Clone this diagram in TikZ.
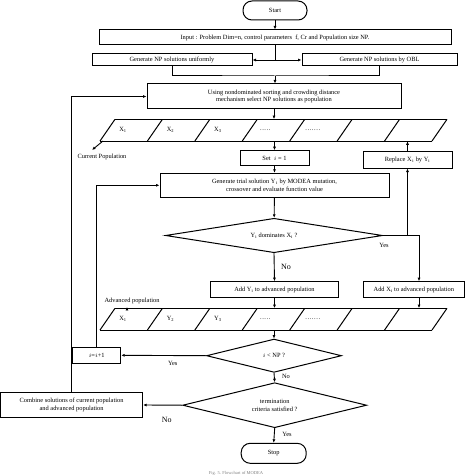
\documentclass[tikz,border=0pt]{standalone}
\usepackage{fontspec}
\setmainfont{Liberation Serif}
\usetikzlibrary{arrows.meta,shapes.geometric}

\tikzset{
    every node/.style={font=\fontsize{6.4}{7.5}\selectfont},
    procbox/.style={draw, line width=1pt, inner sep=1pt, align=center},
    termbox/.style={draw, line width=1pt, rounded corners=9pt, inner sep=1pt},
    decision/.style={draw, diamond, line width=1pt, inner sep=0pt, align=center},
    flowline/.style={line width=1pt},
    arr/.style={line width=0.9pt, -{Latex[length=3.5pt,width=3pt]}},
    answer/.style={font=\fontsize{6.4}{7.5}\selectfont},
    bigno/.style={font=\fontsize{8}{9}\selectfont},
}
\newcommand{\fivedots}{.\kern0.6pt.\kern0.6pt.\kern0.6pt.\kern0.6pt.}
\newcommand{\sevendots}{.\kern0.6pt.\kern0.6pt.\kern0.6pt.\kern0.6pt.\kern0.6pt.\kern0.6pt.}

\begin{document}
\begin{tikzpicture}[x=1pt, y=-1pt]

\useasboundingbox (0,0) rectangle (474,476);

% Start and input
\node[termbox, minimum width=64pt, minimum height=19pt] (start) at (275,10.5) {Start};
\node[procbox, minimum width=352pt, minimum height=15pt] (input) at (275,37.5)
    {Input : Problem Dim=n, control parameters\ \ f, Cr and Population size NP.};

% Initial populations
\node[procbox, minimum width=160pt, minimum height=12pt] (unif) at (172,60)
    {Generate NP solutions uniformly};
\node[procbox, minimum width=155pt, minimum height=12pt] (obl) at (379.5,60)
    {Generate NP solutions by OBL};
\coordinate (split) at (275,60);
\coordinate (merge) at (275,76);

\node[procbox, minimum width=254pt, minimum height=25pt] (select) at (274,96.5)
    {Using nondominated sorting and crowding distance\\mechanism select NP solutions as population};

% Current population
\node[minimum width=347pt, minimum height=21.7pt, inner sep=0pt] (curpop) at (273.5,130.2) {};
\draw[flowline] (115,119.3) -- (447,119.3);
\draw[flowline] (100,141) -- (432,141);
\foreach \k in {0,...,7}
    \draw[flowline] ({100+47.43*\k},141) -- ({115+47.43*\k},119.3);
\foreach \lab [count=\k from 0] in {X\textsubscript{1}, X\textsubscript{2}, X\textsubscript{3}, \fivedots, \sevendots}
    \node at ({123+47.43*\k},130.2) {\lab};

\node (curlbl) at (102,157) {Current Population};
\coordinate (cp-tail) at (103,141);
\coordinate (cp-tip) at (92,150);

\node[procbox, minimum width=69pt, minimum height=14.6pt] (setone) at (274.5,158) {Set\ \ $i$ = 1};
\node[procbox, minimum width=89pt, minimum height=17pt] (replace) at (407.5,159.5)
    {Replace X\textsubscript{\,i} by Y\textsubscript{i}};

\node[procbox, minimum width=229pt, minimum height=24pt] (trial) at (274.5,185.3)
    {Generate trial solution Y\textsubscript{\,i} by MODEA mutation,\\crossover and evaluate function value};

\node[decision, minimum width=217pt, minimum height=34.4pt, shape aspect=6.3] (dom) at (274,235.5)
    {Y\textsubscript{i} dominates X\textsubscript{i} ?};

\node[procbox, minimum width=128pt, minimum height=16pt] (addy) at (274.5,289.7)
    {Add Y\textsubscript{i} to advanced population};
\node[procbox, minimum width=101pt, minimum height=16pt] (addx) at (413.8,289.7)
    {Add X\textsubscript{i} to advanced population};

% Advanced population
\node[minimum width=347pt, minimum height=21.7pt, inner sep=0pt] (advpop) at (273.5,319.2) {};
\draw[flowline] (115,308.3) -- (447,308.3);
\draw[flowline] (100,330) -- (432,330);
\foreach \k in {0,...,7}
    \draw[flowline] ({100+47.43*\k},330) -- ({115+47.43*\k},308.3);
\foreach \lab [count=\k from 0] in {X\textsubscript{1}, Y\textsubscript{2}, Y\textsubscript{3}, \fivedots, \sevendots}
    \node at ({123+47.43*\k},319.2) {\lab};

\node (advlbl) at (132,300.5) {Advanced population};
\coordinate (ap-tail) at (127,308.3);

% Loop control and termination
\node[decision, minimum width=135pt, minimum height=33.3pt, shape aspect=4] (lessnp) at (274,355.7) {$i$ < NP ?};
\node[procbox, minimum width=48pt, minimum height=16pt] (incr) at (96.7,355.3) {$i$=$i$+1};
\node[decision, minimum width=184pt, minimum height=45pt, shape aspect=4] (term) at (274.7,405.2)
    {termination\\criteria satisfied ?};
\node[procbox, minimum width=142pt, minimum height=25.4pt] (combine) at (71.6,405)
    {Combine solutions of current population\\and advanced population};
\node[termbox, minimum width=65pt, minimum height=20pt] (stop) at (273.7,453.3) {Stop};

% Connectors
\draw[arr] (start) -- (input);
\draw[flowline] (input.south) -- (split);
\draw[arr] (split) -- (unif.east);
\draw[arr] (split) -- (obl.west);
\draw[flowline] (unif.south) |- (merge) -| (obl.south);
\draw[arr] (merge) -- (merge |- select.north);
\draw[arr] (select.south) -- (select.south |- curpop.north);
\draw[arr] (cp-tail) -- (cp-tip);
\draw[arr] (setone.north |- curpop.south) -- (setone.north);
\draw[arr] (setone) -- (trial);
\draw[arr] (trial) -- (dom);
\draw[arr] (dom.south) -- (addy.north) node[bigno, midway, right=3pt] {No};
\draw[arr] (dom.east) -- ++(36,0) coordinate (yesturn) -- (yesturn |- addx.north);
\node[answer] at (384,245) {Yes};
\draw[arr] (replace.south |- dom.east) -- (replace.south);
\draw[arr] (replace.north) -- (replace.north |- curpop.south);
\draw[arr] (addy.south) -- (addy.south |- advpop.north);
\draw[arr] (yesturn |- addx.south) -- (yesturn |- advpop.north);
\draw[arr] (ap-tail) -- (ap-tail |- advlbl.south);
\draw[arr] (lessnp.north |- advpop.south) -- (lessnp.north);
\draw[arr] (lessnp.west) -- (incr.east);
\node[answer] at (172.7,363.5) {Yes};
\draw[arr] (incr.north) |- (trial.west);
\draw[arr] (lessnp.south) -- (term.north);
\node[answer] at (286,376.7) {No};
\draw[arr] (term.west) -- (combine.east);
\node[bigno] at (166.7,419.5) {No};
\draw[arr] (combine.north) |- (select.west);
\draw[arr] (term.south) -- (stop.north);
\node[answer] at (287,434.3) {Yes};

\node[font=\fontsize{4.5}{5}\selectfont, text=gray] (caption) at (236,473.5) {Fig. 5. Flowchart of MODEA};

\end{tikzpicture}
\end{document}
